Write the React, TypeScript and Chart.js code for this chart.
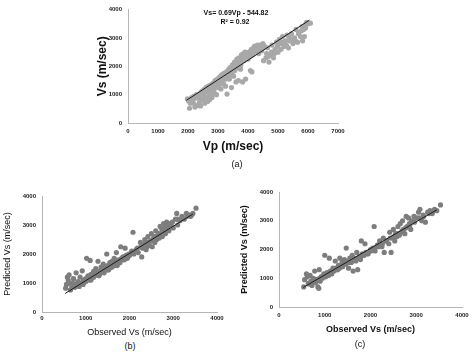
import React, { useEffect, useRef } from "react";
import { Chart, registerables } from "chart.js";

Chart.register(...registerables);

const FONT = '"Liberation Sans", Arial, sans-serif';

// ---------- Panel (a): Vs vs Vp ----------
const aVp = [1980, 2020, 2050, 2080, 2120, 2150, 2200, 2230, 2280, 2320, 2350, 2400, 2420, 2460, 2500, 2530, 2560, 2600, 2620, 2650, 2680, 2700, 2720, 2760, 2790, 2800, 2830, 2860, 2880, 2900, 2930, 2950, 2980, 3000, 3020, 3050, 3080, 3100, 3120, 3150, 3180, 3200, 3230, 3250, 3280, 3300, 3320, 3350, 3380, 3400, 3420, 3450, 3480, 3500, 3520, 3550, 3580, 3600, 3630, 3650, 3680, 3700, 3720, 3750, 3780, 3800, 3820, 3850, 3880, 3900, 3920, 3950, 3980, 4000, 4050, 4080, 4100, 4130, 4150, 4200, 4250, 4300, 4350, 4400, 4450, 4500, 4520, 4550, 4600, 4650, 4700, 4750, 4800, 4850, 4900, 4950, 5000, 5050, 5100, 5150, 5200, 5250, 5300, 5350, 5400, 5450, 5500, 5550, 5600, 5650, 5700, 5750, 5800, 5850, 5880, 5900, 5950, 6000, 6080,
  2100, 2180, 2260, 2340, 2380, 2440, 2480, 2540, 2580, 2640, 2700, 2740, 2780, 2820, 2870, 2920, 2960, 3010, 3060, 3110, 3160, 3210, 3260, 3310, 3360, 3410, 3460, 3510, 3560, 3610, 3660, 3710, 3760, 3810, 3860, 3910, 3960, 4010, 4060, 4110, 4160, 4210, 4260, 4310, 4360, 4410, 4460, 4620, 4680, 4780, 4880, 4980, 5080, 5180, 5280, 5380, 5480, 5580, 5680, 5780, 5820, 5920];
const aVs = [850, 780, 520, 700, 900, 820, 950, 560, 1000, 620, 880, 1050, 600, 1120, 980, 1180, 700, 1250, 1100, 760, 1300, 1200, 820, 1350, 1150, 900, 1400, 1280, 1050, 1500, 1350, 1000, 1550, 1420, 1250, 1620, 1480, 1200, 1700, 1550, 1380, 1750, 1650, 1300, 1800, 1020, 1700, 1880, 1550, 1950, 1800, 1250, 2050, 1900, 1650, 2150, 1950, 1450, 2250, 2050, 1500, 2300, 2150, 1900, 2400, 2250, 1450, 2450, 2300, 2500, 1550, 2350, 2480, 2250, 2500, 1850, 2550, 1800, 2400, 2600, 2500, 2700, 2550, 2750, 2650, 2800, 2200, 2700, 2300, 2650, 2150, 2400, 2750, 2300, 2600, 2850, 2500, 2950, 2600, 3050, 2700, 2900, 3100, 2650, 2900, 3150, 2800, 3000, 3300, 2850, 3200, 3050, 3400, 3300, 3050, 3450, 3550, 3500, 3520,
  760, 700, 880, 950, 720, 1000, 820, 1050, 900, 1150, 950, 1250, 1050, 1300, 1180, 1420, 1300, 1500, 1380, 1600, 1450, 1680, 1550, 1800, 1650, 1900, 1750, 2000, 1850, 2100, 1950, 2200, 2050, 2350, 2200, 2400, 2300, 2450, 2350, 2600, 2500, 2700, 2600, 2750, 2450, 2650, 2550, 2450, 2350, 2500, 2450, 2700, 2800, 2850, 2750, 3000, 2950, 2900, 3150, 3250, 2900, 3350];
const aTrendVp = [1950, 6050];
const aTrendVs = [801, 3630];
const aXTicks = [0, 1000, 2000, 3000, 4000, 5000, 6000, 7000];
const aYTicks = [0, 1000, 2000, 3000, 4000];

// ---------- Panel (b): Predicted vs Observed ----------
const bObserved = [540, 560, 580, 600, 620, 650, 680, 700, 720, 750, 780, 800, 820, 850, 870, 900, 920, 950, 980, 1000, 1020, 1050, 1080, 1100, 1120, 1150, 1180, 1200, 1230, 1250, 1280, 1300, 1320, 1350, 1380, 1400, 1420, 1450, 1480, 1500, 1520, 1550, 1580, 1600, 1620, 1650, 1680, 1700, 1720, 1750, 1780, 1800, 1820, 1850, 1880, 1900, 1920, 1950, 1980, 2000, 2050, 2080, 2100, 2150, 2200, 2250, 2280, 2300, 2350, 2380, 2400, 2420, 2450, 2480, 2500, 2520, 2550, 2580, 2600, 2620, 2650, 2680, 2700, 2720, 2750, 2780, 2800, 2820, 2850, 2880, 2900, 2950, 3000, 3050, 3080, 3100, 3150, 3200, 3250, 3300, 3350, 3400, 3450, 3520,
  620, 700, 760, 820, 880, 940, 1000, 1060, 1120, 1180, 1240, 1300, 1360, 1420, 1480, 1540, 1600, 1660, 1720, 1780, 1840, 1900, 1960, 2020, 2100, 2180, 2260, 2340, 2420, 2500, 2580, 2660, 2740, 2820, 2900, 2980, 3100, 3200, 3320, 3420];
const bPredicted = [820, 950, 1200, 1100, 1280, 760, 900, 1000, 1150, 850, 1350, 950, 1050, 880, 1200, 1000, 1420, 1100, 1050, 1150, 1850, 1250, 1100, 1780, 1300, 1200, 1400, 1250, 1500, 1350, 1750, 1400, 1300, 1550, 1450, 1650, 1500, 1550, 2000, 1600, 1450, 1700, 1550, 1750, 1650, 1850, 1700, 2050, 1600, 1800, 1700, 2250, 1850, 1900, 1800, 2200, 1950, 1850, 2000, 1950, 2100, 2750, 2000, 2150, 2050, 2400, 1900, 2200, 2500, 2150, 2250, 2600, 2300, 2450, 2700, 2250, 2550, 2400, 2800, 2500, 2650, 2550, 2950, 2700, 2600, 3050, 2800, 2700, 3100, 2900, 2800, 3000, 2900, 3200, 3400, 3000, 3150, 3300, 3200, 3400, 3350, 3300, 3400, 3580,
  1000, 880, 950, 900, 1000, 950, 1050, 1150, 1100, 1200, 1300, 1250, 1400, 1350, 1450, 1500, 1550, 1600, 1700, 1750, 1800, 1850, 1900, 2000, 2050, 2200, 2250, 2350, 2400, 2450, 2600, 2700, 2850, 2950, 3050, 3100, 3200, 3250, 3300, 3350];
const bTrendObs = [530, 3450];
const bTrendPred = [640, 3380];

// ---------- Panel (c): Predicted vs Observed ----------
const cObserved = [540, 560, 600, 620, 650, 680, 700, 720, 750, 780, 800, 820, 850, 870, 880, 900, 920, 950, 980, 1000, 1020, 1050, 1080, 1100, 1120, 1150, 1180, 1200, 1230, 1250, 1280, 1300, 1330, 1350, 1380, 1400, 1430, 1450, 1470, 1500, 1520, 1550, 1580, 1600, 1620, 1650, 1680, 1700, 1720, 1750, 1780, 1800, 1820, 1850, 1880, 1900, 1950, 2000, 2050, 2080, 2100, 2150, 2200, 2250, 2280, 2300, 2350, 2400, 2420, 2450, 2480, 2500, 2530, 2550, 2580, 2600, 2630, 2650, 2680, 2700, 2720, 2750, 2780, 2800, 2830, 2850, 2880, 2900, 2950, 3000, 3050, 3080, 3120, 3150, 3200, 3250, 3300, 3350, 3400, 3450, 3530,
  640, 720, 790, 860, 930, 990, 1060, 1130, 1190, 1260, 1320, 1390, 1460, 1530, 1600, 1660, 1730, 1790, 1860, 1930, 2010, 2090, 2170, 2260, 2340, 2430, 2510, 2600, 2690, 2770, 2860, 2960, 3060, 3160, 3280, 3380];
const cPredicted = [700, 950, 1150, 1050, 800, 1100, 900, 750, 1000, 1250, 850, 950, 700, 650, 1300, 900, 1050, 1000, 1150, 1800, 1050, 1200, 1100, 1700, 1250, 1150, 1350, 1250, 1600, 1350, 1300, 1450, 1700, 1400, 1550, 1450, 1650, 1500, 2050, 1600, 1350, 1700, 1550, 1800, 1250, 1700, 1600, 1900, 1300, 1750, 1650, 2300, 1850, 1800, 2200, 1900, 1850, 2000, 2050, 2800, 1950, 2150, 2300, 2100, 2400, 1900, 2300, 2200, 2600, 1900, 2400, 2700, 2300, 2550, 2450, 2800, 2500, 2900, 2600, 3000, 2700, 2550, 3150, 2800, 3100, 2900, 2700, 3000, 3150, 3100, 3300, 3400, 3000, 3200, 2950, 3300, 3350, 3250, 3400, 3350, 3550,
  820, 880, 920, 980, 1050, 1100, 1150, 1200, 1250, 1300, 1350, 1400, 1500, 1550, 1600, 1650, 1700, 1750, 1800, 1850, 1950, 2050, 2100, 2200, 2300, 2400, 2450, 2550, 2650, 2750, 2850, 2950, 3100, 3150, 3250, 3350];
const cTrendObs = [530, 3450];
const cTrendPred = [680, 3380];
const bcXTicks = [0, 1000, 2000, 3000, 4000];
const bcYTicks = [0, 1000, 2000, 3000, 4000];

type PanelProps = {
  left: number; top: number; width: number; height: number;
  padTop: number; padRight: number; yWidth: number; xHeight: number;
  xs: number[]; ys: number[]; tx: number[]; ty: number[];
  xTicks: number[]; yTicks: number[];
  xTitle: string; yTitle: string;
  titleSize: number; titleWeight: string;
  xTitlePad: number; yTitlePad: number;
  xTickPad: number; yTickPad: number;
  pointColor: string;
};

function Panel(p: PanelProps) {
  const ref = useRef<HTMLCanvasElement>(null);
  useEffect(() => {
    const pts = p.xs.map((x, i) => ({ x, y: p.ys[i] }));
    const line = p.tx.map((x, i) => ({ x, y: p.ty[i] }));
    const tickFont = { family: FONT, size: 6, weight: "bold" as const };
    const titleFont = { family: FONT, size: p.titleSize, weight: p.titleWeight as any };
    const chart = new Chart(ref.current!, {
      type: "scatter",
      data: {
        datasets: [
          { data: line, showLine: true, borderColor: "#1a1a1a", borderWidth: 1, pointRadius: 0, fill: false } as any,
          { data: pts, backgroundColor: p.pointColor, borderWidth: 0, pointRadius: 2.6 },
        ],
      },
      options: {
        responsive: false,
        animation: false,
        devicePixelRatio: 1,
        layout: { autoPadding: false, padding: { top: p.padTop, right: p.padRight, left: 0, bottom: 0 } },
        plugins: { legend: { display: false }, tooltip: { enabled: false } },
        scales: {
          x: {
            type: "linear",
            min: p.xTicks[0],
            max: p.xTicks[p.xTicks.length - 1],
            grid: { display: false, drawTicks: false, tickLength: 0 },
            border: { display: true, color: "#b5b5b5", width: 1 },
            afterBuildTicks: (s: any) => { s.ticks = p.xTicks.map((v) => ({ value: v })); },
            afterFit: (s: any) => { s.height = p.xHeight; },
            ticks: { padding: p.xTickPad, font: tickFont, color: "#222", maxRotation: 0, autoSkip: false, callback: (v: any) => String(v) },
            title: { display: true, text: p.xTitle, font: titleFont, color: "#111", padding: { top: 0, bottom: p.xTitlePad } },
          },
          y: {
            type: "linear",
            min: p.yTicks[0],
            max: p.yTicks[p.yTicks.length - 1],
            grid: { display: false, drawTicks: false, tickLength: 0 },
            border: { display: true, color: "#b5b5b5", width: 1 },
            afterBuildTicks: (s: any) => { s.ticks = p.yTicks.map((v) => ({ value: v })); },
            afterFit: (s: any) => { s.width = p.yWidth; },
            ticks: { padding: p.yTickPad, font: tickFont, color: "#222", autoSkip: false, callback: (v: any) => String(v) },
            title: { display: true, text: p.yTitle, font: titleFont, color: "#111", padding: { top: p.yTitlePad, bottom: 0 } },
          },
        },
      },
    });
    return () => chart.destroy();
  }, []);
  return (
    <canvas
      ref={ref}
      width={p.width}
      height={p.height}
      style={{ position: "absolute", left: p.left, top: p.top, width: p.width, height: p.height }}
    />
  );
}

function Label({ x, y, text, size, weight }: { x: number; y: number; text: string; size: number; weight?: string }) {
  return (
    <div
      style={{
        position: "absolute", left: x, top: y, transform: "translate(-50%, -50%)",
        fontFamily: FONT, fontSize: size, fontWeight: (weight || "normal") as any, color: "#111",
        whiteSpace: "nowrap", lineHeight: 1, zIndex: 2,
      }}
    >
      {text}
    </div>
  );
}

export default function App() {
  return (
    <div style={{ position: "absolute", left: 0, top: 0, width: 474, height: 353, background: "#fff", overflow: "hidden" }}>
      <Panel
        left={90} top={0} width={275} height={156}
        padTop={6} padRight={27} yWidth={38} xHeight={33}
        xs={aVp} ys={aVs} tx={aTrendVp} ty={aTrendVs}
        xTicks={aXTicks} yTicks={aYTicks}
        xTitle="Vp (m/sec)" yTitle="Vs (m/sec)"
        titleSize={12} titleWeight="bold" xTitlePad={2} yTitlePad={5}
        xTickPad={5} yTickPad={6}
        pointColor="rgb(168,168,168)"
      />
      <Panel
        left={0} top={180} width={232} height={160}
        padTop={16} padRight={15} yWidth={42} xHeight={28}
        xs={bObserved} ys={bPredicted} tx={bTrendObs} ty={bTrendPred}
        xTicks={bcXTicks} yTicks={bcYTicks}
        xTitle="Observed Vs (m/sec)" yTitle="Predicted Vs (m/sec)"
        titleSize={9} titleWeight="normal" xTitlePad={2} yTitlePad={2}
        xTickPad={3} yTickPad={6}
        pointColor="rgb(125,125,125)"
      />
      <Panel
        left={237} top={180} width={237} height={160}
        padTop={12} padRight={12} yWidth={42} xHeight={33}
        xs={cObserved} ys={cPredicted} tx={cTrendObs} ty={cTrendPred}
        xTicks={bcXTicks} yTicks={bcYTicks}
        xTitle="Observed Vs (m/sec)" yTitle="Predicted Vs (m/sec)"
        titleSize={9} titleWeight="bold" xTitlePad={5} yTitlePad={2}
        xTickPad={5} yTickPad={6}
        pointColor="rgb(125,125,125)"
      />
      <Label x={236} y={12} text="Vs= 0.69Vp - 544.82" size={7} weight="bold" />
      <Label x={235} y={20.5} text="R² = 0.92" size={7} weight="bold" />
      <Label x={237} y={163.5} text="(a)" size={9} />
      <Label x={130} y={346} text="(b)" size={9} />
      <Label x={360} y={344} text="(c)" size={9} />
    </div>
  );
}
